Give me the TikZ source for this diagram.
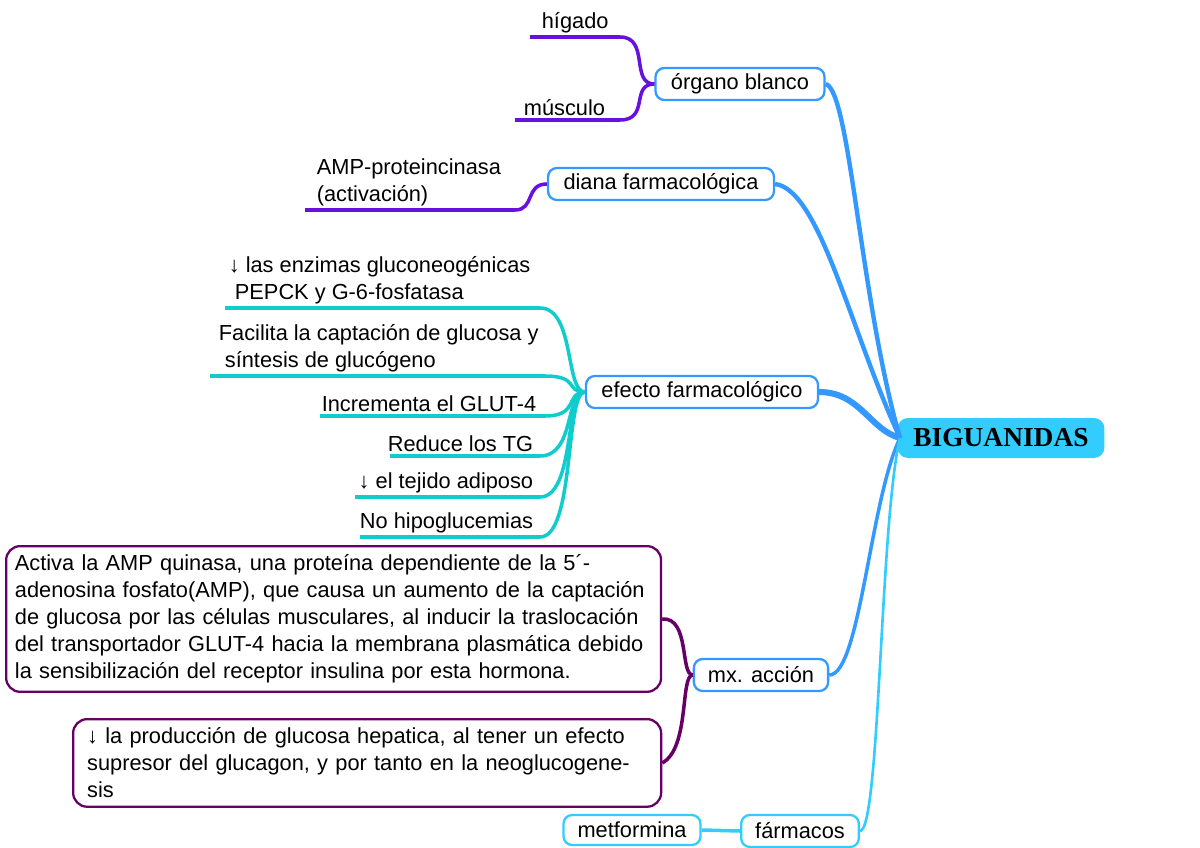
\documentclass[tikz,border=0pt]{standalone}
\usepackage{fontspec}
\setmainfont{Liberation Sans}
\newfontfamily\serifb{Liberation Serif}
\usetikzlibrary{calc}
\begin{document}
\begin{tikzpicture}[x=0.02cm,y=-0.02cm,
  every node/.style={font=\fontsize{12.4}{15.3}\selectfont, inner sep=0pt},
  topic/.style={draw=blue!50!cyan!80, line width=1.3pt, rounded corners=5pt, fill=white, minimum height=0.64cm, inner xsep=8pt},
  mainbr/.style={draw=mblue, line width=3pt},
  pur/.style={draw=mpur, line width=2pt},
  teal/.style={draw=mteal, line width=2pt},
  dpur/.style={draw=mdpur, line width=2pt},
  txt/.style={anchor=south west, align=left, inner sep=2pt}]
\definecolor{mblue}{HTML}{3399FF}
\definecolor{mcyan}{HTML}{33CCFF}
\definecolor{mpur}{HTML}{6611DD}
\definecolor{mteal}{HTML}{11CCCC}
\definecolor{mdpur}{HTML}{660066}
\useasboundingbox (0,0) rectangle (1200,848);
% main
\node[fill=mcyan, rounded corners=6pt, minimum width=4.14cm, minimum height=0.8cm, font=\serifb\bfseries\fontsize{15.6}{18}\selectfont] (B) at (1001,438) {BIGUANIDAS};
\coordinate (R) at (900,438);
\node[topic, draw=mblue, minimum width=3.38cm] (org) at (740,84) {órgano blanco};
\node[topic, draw=mblue, minimum width=4.52cm] (dia) at (661,184) {diana farmacológica};
\node[topic, draw=mblue, minimum width=4.64cm] (efe) at (702,392) {efecto farmacológico};
\node[topic, draw=mblue, minimum width=2.58cm] (mx) at (761,675) {mx. acción};
\node[topic, draw=mcyan, minimum width=2.28cm] (far) at (800,831) {fármacos};
\node[topic, draw=mcyan, minimum width=2.72cm, minimum height=0.6cm] (met) at (632,830) {metformina};
% main branches
\draw[mainbr, line width=2.5pt] (R) .. controls (860,300) and (850,90) .. (org.east);
\draw[mainbr, line width=2.5pt] (R) .. controls (850,330) and (820,190) .. (dia.east);
\draw[mainbr, line width=3.5pt] (R) .. controls (870,430) and (860,392) .. (efe.east);
\draw[mainbr, line width=2pt] (R) .. controls (870,500) and (860,675) .. (mx.east);
\draw[draw=mcyan, line width=1.5pt] (R) .. controls (880,520) and (880,831) .. (far.east);
\draw[draw=mcyan, line width=2pt] (far.west) -- (met.east);
% organo blanco
\coordinate (h1) at (530,37); \coordinate (h2) at (620,37);
\coordinate (m1) at (515,120); \coordinate (m2) at (620,120);
\node[txt] (hig) at (538,37) {hígado};
\node[txt] (mus) at (520,120) {músculo};
\draw[pur] (h1) -- (h2) .. controls (650,37) and (630,84) .. (org.west);
\draw[pur] (m1) -- (m2) .. controls (650,120) and (630,84) .. (org.west);
% diana
\coordinate (a1) at (305,210); \coordinate (a2) at (515,210);
\node[txt] (amp) at (313,210) {AMP-proteincinasa\\(activación)};
\draw[pur] (a1) -- (a2) .. controls (535,210) and (525,184) .. (dia.west);
% efecto
\node[txt] (e1) at (225,308) {↓ las enzimas gluconeogénicas\\\ PEPCK y G-6-fosfatasa};
\coordinate (e1a) at (225,308); \coordinate (e1b) at (540,308);
\node[txt] (e2) at (215,376) {Facilita la captación de glucosa y\\\ síntesis de glucógeno};
\coordinate (e2a) at (210,376); \coordinate (e2b) at (545,376);
\node[txt, anchor=south east] (e3) at (540,416) {Incrementa el GLUT-4};
\coordinate (e3a) at (320,416); \coordinate (e3b) at (545,416);
\node[txt, anchor=south east] (e4) at (537,456) {Reduce los TG};
\coordinate (e4a) at (390,456); \coordinate (e4b) at (540,456);
\node[txt, anchor=south east] (e5) at (537,497) {↓ el tejido adiposo};
\coordinate (e5a) at (355,497); \coordinate (e5b) at (540,497);
\node[txt, anchor=south east] (e6) at (537,537) {No hipoglucemias};
\coordinate (e6a) at (360,537); \coordinate (e6b) at (540,537);
\foreach \i in {1,...,6}{
  \draw[teal] (e\i a) -- (e\i b) .. controls ($(e\i b)+(35,0)$) and (565,392) .. (efe.west);
}
% mx accion
\node[draw=mdpur, line width=1.3pt, rounded corners=8pt, anchor=north west, align=left, inner xsep=5pt, inner ysep=5pt, text width=12.75cm] (bx1) at (5,545) {Activa la AMP quinasa, una proteína dependiente de la 5´-\\adenosina fosfato(AMP), que causa un aumento de la captación\\de glucosa por las células musculares, al inducir la traslocación\\del transportador GLUT-4 hacia la membrana plasmática debido\\la sensibilización del receptor insulina por esta hormona.};
\node[draw=mdpur, line width=1.3pt, rounded corners=8pt, anchor=north west, align=left, inner xsep=8pt, inner ysep=5pt, text width=11.2cm] (bx2) at (72,718) {↓ la producción de glucosa hepatica, al tener un efecto\\supresor del glucagon, y por tanto en la neoglucogenesis};
\draw[dpur] (bx1.east) .. controls (690,617) and (680,675) .. (mx.west);
\draw[dpur] (bx2.east) .. controls (690,748) and (680,675) .. (mx.west);
\end{tikzpicture}
\end{document}
